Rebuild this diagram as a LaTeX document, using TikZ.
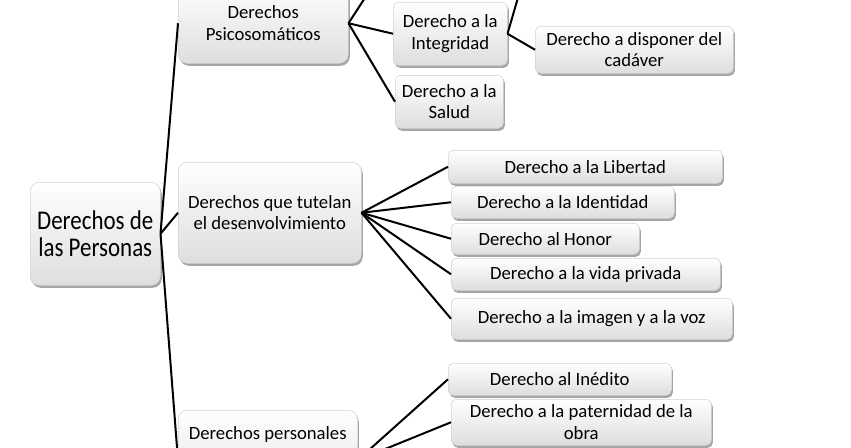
\documentclass[tikz,border=0pt]{standalone}
\usepackage{fontspec}
\setmainfont{Carlito}
\usetikzlibrary{positioning,shadows}
\newcommand{\squeezed}[1]{\scalebox{0.85}[1]{#1}}
\tikzset{
    item/.style = {
        draw = gray!35,
        line width = 0.5pt,
        rounded corners = 5pt,
        top color = white,
        bottom color = gray!26,
        drop shadow = {shadow xshift=1.5pt, shadow yshift=-2.5pt, opacity=0.35, fill=black},
        align = center,
        inner sep = 0pt,
        font = \fontsize{18.7}{21.5}\selectfont,
        anchor = north west,
        },
    big item/.style = {
        item,
        rounded corners = 9pt,
        },
    root item/.style = {
        big item,
        font = \fontsize{27}{27}\selectfont,
        },
    box size/.style 2 args = {
        minimum width=#1pt,
        minimum height=#2pt,
        },
    link/.style = {
        draw = black,
        line width = 2pt,
        },
}
\begin{document}
\begin{tikzpicture}[x=1pt, y=-1pt]
            \useasboundingbox (0,0) rectangle (851,447);
            \clip (0,0) rectangle (851,447);

            % main branches
            \node[root item, box size={130}{103}] (root) at (30,182) {\squeezed{Derechos de}\\\squeezed{las Personas}};
            \node[big item, box size={170}{80}] (psico) at (178,-17) {Derechos\\Psicosomáticos};
            \node[big item, box size={183}{101}] (desen) at (178,162) {Derechos que tutelan\\el desenvolvimiento};
            \node[big item, minimum width=179pt, text height=29pt, text depth=71pt] (pers) at (178,410) {Derechos personales};

            % psicosomaticos
            \node[item, box size={114}{63}] (integ) at (393,2) {Derecho a la\\Integridad};
            \node[item, box size={108}{53}] (salud) at (395,75) {Derecho a la\\Salud};
            \node[item, box size={198}{47}] (cadaver) at (535,26) {Derecho a disponer del\\cadáver};
            \coordinate (psico up) at (383,-30);
            \coordinate (integ up) at (526,-30);

            % desenvolvimiento
            \node[item, box size={274}{33}] (libertad) at (448,150) {Derecho a la Libertad};
            \node[item, box size={223}{32}] (identidad) at (451,186) {Derecho a la Identidad};
            \node[item, box size={188}{31}] (honor) at (451,223) {Derecho al Honor};
            \node[item, box size={269}{32}] (privada) at (451,258) {Derecho a la vida privada};
            \node[item, box size={281}{41}] (imagen) at (451,298) {Derecho a la imagen y a la voz};

            % personales
            \node[item, box size={223}{32}] (inedito) at (448,363) {Derecho al Inédito};
            \node[item, box size={260}{46}] (paternidad) at (451,399) {Derecho a la paternidad de la\\obra};

            \path (root.east) edge[link] (psico.west);
            \path (root.east) edge[link] (desen.west);
            \path (root.east) edge[link] (pers.west);
            \path (psico.east) edge[link] (psico up);
            \path (psico.east) edge[link] (integ.west);
            \path (psico.east) edge[link] (salud.west);
            \path (integ.east) edge[link] (integ up);
            \path (integ.east) edge[link] (cadaver.west);
            \path (desen.east) edge[link] (libertad.west);
            \path (desen.east) edge[link] (identidad.west);
            \path (desen.east) edge[link] (honor.west);
            \path (desen.east) edge[link] (privada.west);
            \path (desen.east) edge[link] (imagen.west);
            \path (pers.east) edge[link] (inedito.west);
            \path (pers.east) edge[link] (paternidad.west);
        \end{tikzpicture}
\end{document}
